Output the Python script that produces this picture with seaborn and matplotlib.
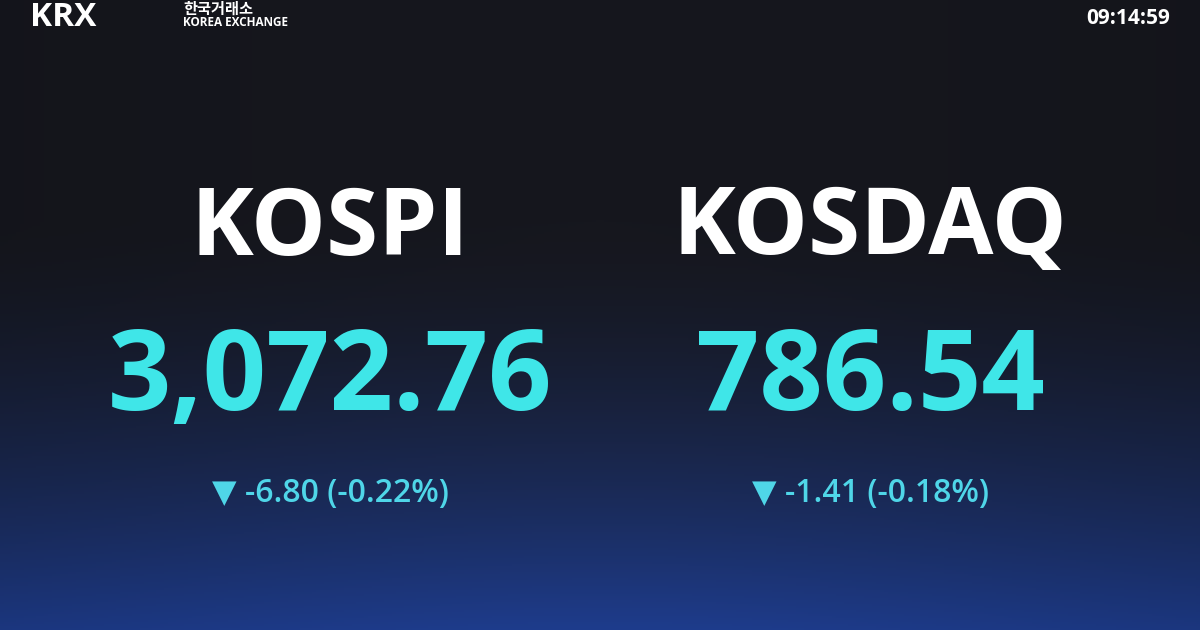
import numpy as np
import matplotlib
matplotlib.use("Agg")
import matplotlib.pyplot as plt
import seaborn as sns

sns.set_theme(style="white")
plt.rcParams['font.family'] = ['Open Sans', 'Noto Sans CJK KR', 'DejaVu Sans']

indices = ["KOSPI", "KOSDAQ"]
values = ["3,072.76", "786.54"]
changes = ["▼ -6.80 (-0.22%)", "▼ -1.41 (-0.18%)"]
clock = "09:14:59"

fig = plt.figure(figsize=(12, 6.3), dpi=100)
ax = fig.add_axes([0, 0, 1, 1])
ax.set_xlim(0, 1200); ax.set_ylim(630, 0); ax.axis("off")

h, w = 315, 300
yy = np.linspace(0, 1, h)[:, None]
xx = np.linspace(0, 1, w)[None, :]
top = np.array([0x16, 0x17, 0x1e]) / 255
bot = np.array([0x1e, 0x3c, 0x8c]) / 255
t = np.clip((yy - 0.35) / 0.65, 0, 1) ** 1.6
glow = np.exp(-((xx - 0.5) ** 2) / 0.25)
img = top[None, None, :] * (1 - t[..., None]) + bot[None, None, :] * t[..., None]
img = img * (0.85 + 0.15 * glow[..., None])
img = np.clip(img, 0, 1)
ax.imshow(img, extent=[0, 1200, 630, 0], aspect="auto", zorder=0)

ax.text(30, 18, "KRX", color="white", fontsize=24, fontweight="bold", ha="left", va="center", zorder=2)
ax.text(183, 9, "한국거래소", color="white", fontsize=11, fontweight="bold", ha="left", va="center", zorder=2,
        family=['Noto Sans CJK KR', 'DejaVu Sans'])
ax.text(183, 22, "KOREA EXCHANGE", color="white", fontsize=8.5, fontweight="bold", ha="left", va="center", zorder=2)
ax.text(1170, 18, clock, color="white", fontsize=15, fontweight="bold", ha="right", va="center", zorder=2)

xs = [330, 870]
for x, name, val, ch in zip(xs, indices, values, changes):
    ax.text(x, 230, name, color="white", fontsize=68, fontweight="bold", ha="center", va="center", zorder=2)
    ax.text(x, 381, val, color="#3fe6e8", fontsize=80, fontweight="bold", ha="center", va="center", zorder=2)
    ax.text(x, 494, ch, color="#4fd6e8", fontsize=23, fontweight="semibold", ha="center", va="center", zorder=2,
            family=['Open Sans', 'DejaVu Sans'])

fig.savefig("out.png", dpi=100)
